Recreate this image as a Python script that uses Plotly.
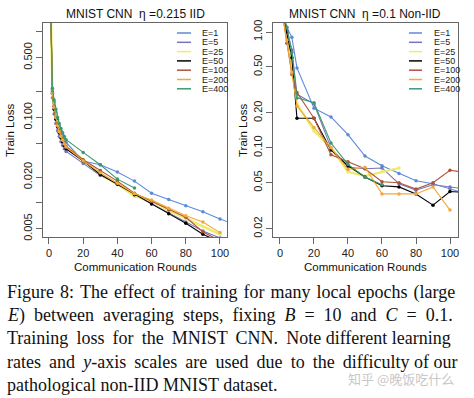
import plotly.graph_objects as go

# ---------------- data ----------------
series_names = ["E=1", "E=5", "E=25", "E=50", "E=100", "E=200", "E=400"]
series_colors = ["#5b8bd9", "#7a74b8", "#ecec6a", "#000000", "#b0523a", "#f2a93b", "#3d9970"]

left_rounds = [1, 2, 3, 4, 5, 6, 7, 8, 9, 10, 20, 30, 40, 50, 60, 70, 80, 90, 100, 110]
left_loss = {
    "E=1":   [2.0, 0.21, 0.15, 0.115, 0.095, 0.08, 0.07, 0.062, 0.056, 0.051, 0.031, 0.028, 0.023, 0.018, 0.013, 0.011, 0.0093, 0.0079, 0.0065, 0.0055],
    "E=5":   [2.0, 0.17, 0.11, 0.085, 0.07, 0.06, 0.052, 0.047, 0.043, 0.04, 0.029, 0.021, 0.017, 0.0125, 0.0098, 0.0077, 0.006, 0.0047, 0.0039],
    "E=25":  [2.0, 0.2, 0.13, 0.1, 0.083, 0.07, 0.061, 0.054, 0.049, 0.045, 0.032, 0.022, 0.0165, 0.012, 0.0105, 0.0082, 0.0066, 0.0053, 0.0043],
    "E=50":  [2.0, 0.19, 0.125, 0.095, 0.078, 0.066, 0.058, 0.052, 0.047, 0.043, 0.031, 0.0215, 0.0165, 0.0125, 0.0097, 0.0075, 0.0058, 0.0043, 0.0035],
    "E=100": [2.0, 0.2, 0.135, 0.1, 0.082, 0.07, 0.061, 0.055, 0.05, 0.046, 0.032, 0.024, 0.018, 0.013, 0.0105, 0.0083, 0.0068, 0.0046, 0.0036],
    "E=200": [2.0, 0.19, 0.13, 0.1, 0.08, 0.068, 0.06, 0.054, 0.049, 0.045, 0.031, 0.0225, 0.017, 0.0128, 0.0108, 0.0087, 0.0071, 0.006, 0.0045],
    "E=400": [2.0, 0.22, 0.16, 0.125, 0.1, 0.085, 0.074, 0.066, 0.06, 0.055, 0.039, 0.028, 0.019, 0.015],
}

right_rounds = [1, 4, 7, 10, 20, 30, 40, 50, 60, 70, 80, 90, 100, 110]
right_loss = {
    "E=1":   [1.6, 1.1, 0.9, 0.49, 0.22, 0.185, 0.13, 0.085, 0.07, 0.06, 0.052, 0.049, 0.044, 0.040],
    "E=5":   [1.6, 1.05, 0.7, 0.29, 0.24, 0.1, 0.068, 0.066, 0.067, 0.049, 0.043, 0.048, 0.046, 0.044],
    "E=25":  [1.6, 0.9, 0.5, 0.24, 0.14, 0.1, 0.062, 0.057, 0.062, 0.067],
    "E=50":  [1.6, 1.0, 0.6, 0.18, 0.18, 0.096, 0.07, 0.056, 0.047, 0.046, 0.04, 0.032, 0.042, 0.041],
    "E=100": [1.6, 0.8, 0.43, 0.3, 0.18, 0.087, 0.076, 0.066, 0.051, 0.05, 0.044, 0.05, 0.064, 0.061],
    "E=200": [1.6, 0.85, 0.45, 0.23, 0.15, 0.1, 0.065, 0.068, 0.04, 0.04, 0.04, 0.046, 0.029],
    "E=400": [1.6, 1.1, 0.67, 0.27, 0.245, 0.11, 0.072, 0.056, 0.048],
}

left_title = "MNIST CNN  η =0.215 IID"
right_title = "MNIST CNN  η =0.1 Non-IID"
x_label = "Communication Rounds"
y_label = "Train Loss"
x_ticks = [0, 20, 40, 60, 80, 100]
left_yticks = [1, 0.5, 0.2, 0.1, 0.05, 0.02, 0.01, 0.005]
left_ytext = ["", "0.500", "", "0.100", "", "0.020", "", "0.005"]
right_yticks = [1, 0.5, 0.2, 0.1, 0.05, 0.02]
right_ytext = ["1.00", "0.50", "0.20", "0.10", "0.05", "0.02"]

caption_lines = [
    "Figure 8: The effect of training for many local epochs (large",
    "<i>E</i>) between averaging steps, fixing <i>B</i> = 10 and <i>C</i> = 0.1.",
    "Training loss for the MNIST CNN. Note different learning",
    "rates and <i>y</i>-axis scales are used due to the difficulty of our",
    "pathological non-IID MNIST dataset.",
]
# (spacer character, number of word gaps that get it) to mimic the justified paragraph
caption_spacing = [("\u200a", 10), ("\u00a0", 20), ("\u2009", 6), ("\u2009", 9), ("", 0)]
watermark = "知乎 @晚饭吃什么"

# ---------------- figure ----------------
W, H = 474, 398
fig = go.Figure()

def px(x):
    return x / W

def py(y):
    return 1 - y / H

def justify(line, spacer, n):
    if not spacer or n == 0:
        return line
    parts = line.split(" ")
    out = parts[0]
    for i, p in enumerate(parts[1:]):
        out += (" " + spacer if i < n else " ") + p
    return out

for name, col in zip(series_names, series_colors):
    lw = 2.4 if name == "E=25" else 1.1
    ys = left_loss[name]
    fig.add_trace(go.Scatter(x=left_rounds[:len(ys)], y=ys, mode="lines+markers",
                             line=dict(color=col, width=lw), marker=dict(color=col, size=3.5),
                             name=name, showlegend=False, xaxis="x", yaxis="y"))
for name, col in zip(series_names, series_colors):
    lw = 2.2 if name == "E=25" else 1.1
    ys = right_loss[name]
    fig.add_trace(go.Scatter(x=right_rounds[:len(ys)], y=ys, mode="lines+markers",
                             line=dict(color=col, width=lw), marker=dict(color=col, size=3.5),
                             name=name, showlegend=False, xaxis="x2", yaxis="y2"))

font_sans = "Liberation Sans, Arial, sans-serif"
frame = "#666666"
axis_common = dict(showline=True, linecolor=frame, linewidth=1, mirror=True, automargin=False,
                   ticks="outside", ticklen=6, tickcolor=frame, showgrid=False, zeroline=False,
                   tickfont=dict(family=font_sans, size=11, color="#222"))

fig.update_layout(
    width=W, height=H, autosize=False,
    margin=dict(l=0, r=0, t=0, b=0, pad=0),
    paper_bgcolor="white", plot_bgcolor="white",
    xaxis=dict(domain=[px(43), px(227)], range=[-3.5, 104.1], tickvals=x_ticks, anchor="y", **axis_common),
    yaxis=dict(domain=[py(237), py(23)], type="log", range=[-2.398, 0.104],
               tickvals=left_yticks, ticktext=left_ytext, tickangle=-90, anchor="x", **axis_common),
    xaxis2=dict(domain=[px(273), px(458)], range=[-4.1, 104.7], tickvals=x_ticks, anchor="y2", **axis_common),
    yaxis2=dict(domain=[py(237), py(23)], type="log", range=[-1.77, 0.078],
                tickvals=right_yticks, ticktext=right_ytext, tickangle=-90, anchor="x2", **axis_common),
)

ann = []
shapes = []
# titles
ann.append(dict(x=px(135), y=py(14), xref="paper", yref="paper", text=left_title, showarrow=False,
                font=dict(family=font_sans, size=12, color="#111"), xanchor="center", yanchor="middle"))
ann.append(dict(x=px(365), y=py(14), xref="paper", yref="paper", text=right_title, showarrow=False,
                font=dict(family=font_sans, size=12, color="#111"), xanchor="center", yanchor="middle"))
# axis labels
for cx in (135, 365):
    ann.append(dict(x=px(cx), y=py(267), xref="paper", yref="paper", text=x_label, showarrow=False,
                    font=dict(family=font_sans, size=11.5, color="#111"), xanchor="center", yanchor="middle"))
for cx in (10, 243):
    ann.append(dict(x=px(cx), y=py(130), xref="paper", yref="paper", text=y_label, showarrow=False,
                    textangle=-90, font=dict(family=font_sans, size=11.5, color="#111"),
                    xanchor="center", yanchor="middle"))

# legends (manual, R style)
row_y = [33, 42.3, 51.6, 60.9, 70.2, 79.5, 88.8]
for (sx0, sx1, tx) in ((177, 191, 200), (409, 422, 432)):
    for name, col, ry in zip(series_names, series_colors, row_y):
        shapes.append(dict(type="line", xref="paper", yref="paper", x0=px(sx0), x1=px(sx1),
                           y0=py(ry), y1=py(ry), line=dict(color=col, width=1.5)))
        ann.append(dict(x=px(tx), y=py(ry), xref="paper", yref="paper", text=name, showarrow=False,
                        font=dict(family=font_sans, size=9, color="#222"), xanchor="left", yanchor="middle"))

# caption
cap_y = [292, 315, 338, 362, 385]
for line, (sp, n), cy in zip(caption_lines, caption_spacing, cap_y):
    ann.append(dict(x=px(5), y=py(cy), xref="paper", yref="paper", text=justify(line, sp, n), showarrow=False,
                    font=dict(family="Liberation Serif, Times New Roman, serif", size=18, color="#111"),
                    xanchor="left", yanchor="middle"))
ann.append(dict(x=px(401), y=py(378), xref="paper", yref="paper", text=watermark, showarrow=False,
                font=dict(family="Noto Sans CJK SC", size=13, color="#c8c8c8"),
                xanchor="center", yanchor="middle"))

fig.update_layout(annotations=ann, shapes=shapes)
fig.write_html("out.html", config={"displayModeBar": False},
               post_script="document.body.style.margin='0';document.body.style.overflow='hidden';")
